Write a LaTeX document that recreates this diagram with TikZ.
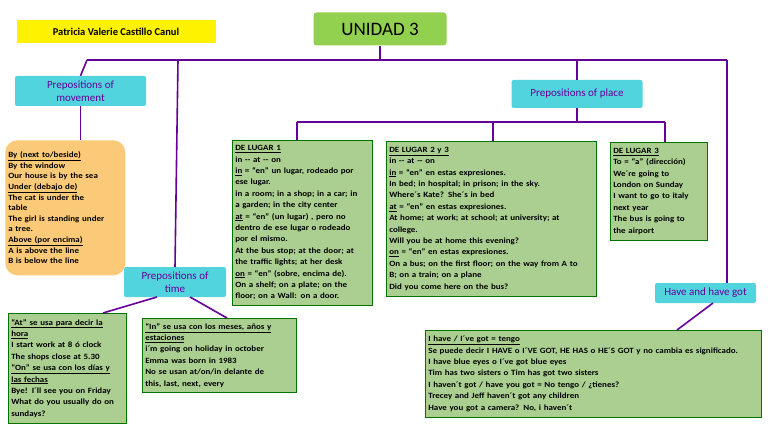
\documentclass[tikz,border=0pt]{standalone}
\usepackage{fontspec}
\setmainfont{Carlito}
\newfontfamily\wide{Carlito}[FakeStretch=1.12]
\begin{document}
\begin{tikzpicture}[x=1pt,y=-1pt,
 line/.style={draw=violet!80!blue,line width=1.6pt},
 cy/.style={fill=cyanb,draw=none,rounded corners=2pt,text=violet!80!blue,font=\fontsize{11}{13}\selectfont,align=center,inner sep=0pt},
 gb/.style={fill=gfill,draw=green!45!black,line width=0.6pt,anchor=north west,align=left,inner sep=3pt,font=\wide\fontsize{8}{11.4}\selectfont\bfseries,text width=#1},
]
\definecolor{gfill}{RGB}{170,207,145}
\definecolor{cyanb}{RGB}{82,212,222}
\definecolor{hdr}{RGB}{146,208,80}
\definecolor{org}{RGB}{250,202,120}
\useasboundingbox (0,0) rectangle (768,433);
\fill[white] (0,0) rectangle (768,433);
% top
\node[fill=hdr,rounded corners=3pt,minimum width=133pt,minimum height=33pt,font=\fontsize{19}{22}\selectfont] (u) at (380,29) {UNIDAD 3};
\node[fill=yellow,minimum width=199pt,minimum height=23pt,font=\fontsize{10.5}{12}\selectfont\bfseries] (name) at (116,31.5) {Patricia Valerie Castillo Canul};
\node[cy,minimum width=131pt,minimum height=30pt] (mov) at (80.5,91) {Prepositions of\\movement};
\node[cy,minimum width=131pt,minimum height=28pt] (pl) at (577,94) {Prepositions of place};
\node[cy,minimum width=102pt,minimum height=30pt] (tm) at (175,282) {Prepositions of\\time};
\node[cy,minimum width=101pt,minimum height=20pt] (hv) at (705.5,293) {Have and have got};
% content boxes
\node[gb=114pt,fill=org,draw=none,rounded corners=12pt,minimum height=135pt,font=\wide\fontsize{8}{10.6}\selectfont\bfseries] (mb) at (5,140) {\underline{By (next to/beside)}\\By the window\\Our house is by the sea\\\underline{Under (debajo de)}\\The cat is under the\\table\\The girl is standing under\\a tree.\\\underline{Above (por encima)}\\A is above the line\\B is below the line};
\node[gb=134pt,minimum height=165pt] (l1) at (232,140) {\underline{DE LUGAR 1}\\in -- at -- on\\\underline{in} = “en” un lugar, rodeado por\\ese lugar.\\in a room; in a shop; in a car; in\\a garden; in the city center\\\underline{at} = “en” (un lugar) , pero no\\dentro de ese lugar o rodeado\\por el mismo.\\At the bus stop; at the door; at\\the traffic lights; at her desk\\\underline{on} = “en” (sobre, encima de).\\On a shelf; on a plate; on the\\floor; on a Wall: on a door.};
\node[gb=204pt,minimum height=155pt] (l2) at (386,141) {\underline{DE LUGAR 2 y 3}\\in -- at -- on\\\underline{in} = “en” en estas expresiones.\\In bed; in hospital; in prison; in the sky.\\Where´s Kate? She´s in bed\\\underline{at} = “en” en estas expresiones.\\At home; at work; at school; at university; at\\college.\\Will you be at home this evening?\\\underline{on} = “en” en estas expresiones.\\On a bus; on the first floor; on the way from A to\\B; on a train; on a plane\\Did you come here on the bus?};
\node[gb=91pt,minimum height=98pt] (l3) at (610,142) {\underline{DE LUGAR 3}\\To = “a” (dirección)\\We´re going to\\London on Sunday\\I want to go to italy\\next year\\The bus is going to\\the airport};
\node[gb=112pt,minimum height=110pt] (t1) at (8,313) {\underline{“At” se usa para decir la}\\\underline{hora}\\I start work at 8 ó clock\\The shops close at 5.30\\\underline{“On” se usa con los días y}\\\underline{las fechas}\\Bye! I´ll see you on Friday\\What do you usually do on\\sundays?};
\node[gb=148pt,minimum height=74pt] (t2) at (142,318) {\underline{“In” se usa con los meses, años y}\\\underline{estaciones}\\i´m going on holiday in october\\Emma was born in 1983\\No se usan at/on/in delante de\\this, last, next, every};
\node[gb=330pt,minimum height=87pt] (hb) at (425,330) {\underline{I have / I´ve got = tengo}\\Se puede decir I HAVE o I´VE GOT, HE HAS o HE´S GOT y no cambia es significado.\\I have blue eyes o I´ve got blue eyes\\Tim has two sisters o Tim has got two sisters\\I haven´t got / have you got = No tengo / ¿tienes?\\Trecey and Jeff haven´t got any children\\Have you got a camera? No, i haven´t};
% connectors
\coordinate (h1) at (87,60); \coordinate (h2) at (727,60);
\draw[line] (u.south) -- (380,60);
\draw[line] (h1) -- (h2);
\draw[line] (h1) -- (mov.north);
\draw[line] (178,60) -- (tm.north);
\draw[line] (577,60) -- (pl.north);
\draw[line] (h2) -- (hv.north -| h2);
\draw[line] (mov.south) -- (mov.south |- mb.north);
\draw[line] (pl.south) -- (577,122);
\draw[line] (297,122) -- (665,122);
\draw[line] (297,122) -- (297,140);
\draw[line] (493,122) -- (493,141);
\draw[line] (665,122) -- (665,142);
\draw[line] (157,297) -- (103,313);
\draw[line] (190,297) -- (227,318);
\draw[line] (713,303) -- (677,330);
\end{tikzpicture}
\end{document}
